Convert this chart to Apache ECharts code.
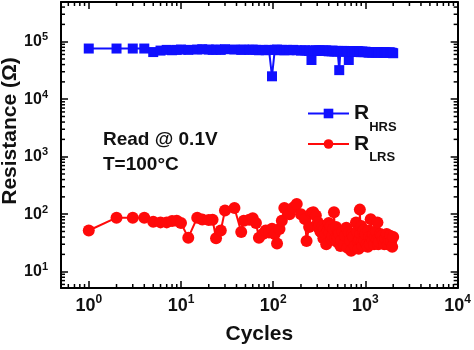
<!DOCTYPE html>
<html><head><meta charset="utf-8">
<script src="https://cdn.jsdelivr.net/npm/echarts@6/dist/echarts.min.js"></script>
<style>html,body{margin:0;padding:0;background:#fff}#c{width:474px;height:350px}</style>
</head><body><div id="c"></div>
<script>
const cycles = [1,2,3,4,5,6,7,8,9,10,
  12,15,17,20,22,24,27,30,
  38,45,48,55,60,65,70,77,83,90,
  97,104,110,117,124,132,141,150,165,180,
  200,221,230,245,260,272,290,305,310,318,
  325,335,345,350,360,370,376,390,400,410,
  420,430,440,450,456,470,480,490,500,510,
  520,535,550,565,585,600,620,640,660,680,
  700,720,740,765,790,810,830,845,860,870,
  885,900,915,930,945,960,980,1000,1030,1060,
  1080,1100,1120,1140,1170,1200,1220,1240,1270,1300,
  1330,1350,1380,1400,1450,1500,1550,1600,1650,1700,
  1750,1800,1850,1900,1950,2000];
const hrs = [76000,76000,76000,76000,66000,70000,72000,71000,72000,73000,
  72000,73000,74000,73000,72000,73000,72000,74000,
  73000,72000,73000,72000,73000,72000,71000,72000,71000,72000,
  25000,72000,73000,71000,72000,71000,72000,71000,72000,71000,
  70000,71000,70000,69000,48000,70000,71000,69000,70000,70000,
  69000,69000,70000,70000,69000,70000,70000,69000,68000,69000,
  69000,68000,70000,69000,68000,68000,69000,68000,68000,69000,
  32000,68000,68000,69000,69000,68000,67000,68000,48000,67000,
  67000,68000,68000,67000,67000,68000,68000,67000,66000,67000,
  66000,66000,67000,67000,66000,66000,66000,67000,66000,66000,
  65000,65000,66000,66000,65000,65000,66000,66000,65000,65000,
  66000,66000,65000,65000,65000,65000,64000,65000,65000,64000,
  64000,65000,65000,64000,64000,63000];
const lrs = [52,87,87,87,74,72,72,76,77,70,
  39,87,81,79,80,38,52,116,
  128,49,77,80,85,70,39,45,52,48,
  56,45,31,55,77,128,118,100,130,150,
  100,82,34,60,105,108,95,72,58,65,
  50,48,62,38,55,45,30,52,70,48,
  62,36,42,55,108,38,60,33,40,52,
  46,28,35,50,30,42,58,26,48,35,
  23,45,40,28,72,50,33,25,36,120,
  45,62,33,28,50,53,35,45,30,27,
  52,40,30,82,38,35,45,30,40,50,
  36,72,30,33,45,42,35,30,38,45,
  30,36,42,33,27,40];
const xTickExponents = ['0','1','2','3','4'];
const yTickExponents = ['1','2','3','4','5'];
const xMinorTicks = [0.6,0.7,0.8,0.9,2,3,4,5,6,7,8,9,20,30,40,50,60,70,80,90,200,300,400,500,600,700,800,900,2000,3000,4000,5000,6000,7000,8000,9000];
const yMinorTicks = [6,7,8,9,20,30,40,50,60,70,80,90,200,300,400,500,600,700,800,900,2000,3000,4000,5000,6000,7000,8000,9000,20000,30000,40000,50000,60000,70000,80000,90000,200000,300000,400000];

const FONT = '"Liberation Sans", Arial, sans-serif';
const chart = echarts.init(document.getElementById('c'));

function expLabel(list){
  return function(v){
    const e = Math.log10(v);
    const r = Math.round(e);
    if (Math.abs(e - r) > 1e-6) return '';
    const s = String(r);
    if (list.indexOf(s) < 0) return '';
    return '{b|10}{s|' + s + '}';
  };
}
const axLine = {show:true, onZero:false, lineStyle:{color:'#000', width:2}};
const axTick = {show:true, inside:true, length:7, lineStyle:{color:'#000', width:1.5}};

function minorX(params, api){
  const cs = params.coordSys;
  const x = api.coord([api.value(0), 10])[0];
  const yb = cs.y + cs.height, yt = cs.y;
  return {type:'group', children:[
    {type:'line', shape:{x1:x, y1:yb, x2:x, y2:yb-4}, style:{stroke:'#000', lineWidth:1.5}},
    {type:'line', shape:{x1:x, y1:yt, x2:x, y2:yt+4}, style:{stroke:'#000', lineWidth:1.5}}
  ]};
}
function minorY(params, api){
  const cs = params.coordSys;
  const y = api.coord([1, api.value(1)])[1];
  const xl = cs.x, xr = cs.x + cs.width;
  return {type:'group', children:[
    {type:'line', shape:{x1:xl, y1:y, x2:xl+4, y2:y}, style:{stroke:'#000', lineWidth:1.5}},
    {type:'line', shape:{x1:xr, y1:y, x2:xr-4, y2:y}, style:{stroke:'#000', lineWidth:1.5}}
  ]};
}

chart.setOption({
  animation:false,
  backgroundColor:'#fff',
  grid:{left:61, right:11, top:2, bottom:52, containLabel:false},
  xAxis:[{
    type:'log', logBase:10, min:0.5, max:10000, position:'bottom',
    axisLine:axLine, axisTick:axTick, splitLine:{show:false},
    axisLabel:{formatter:expLabel(xTickExponents), margin:9, showMinLabel:false,
      rich:{b:{fontFamily:FONT, fontSize:18, fontWeight:'bold', color:'#111', verticalAlign:'bottom', lineHeight:18, padding:[6,0,0,0]},
            s:{fontFamily:FONT, fontSize:12, fontWeight:'bold', color:'#111', verticalAlign:'bottom', lineHeight:12, padding:[0,0,9,0]}}},
    name:'Cycles', nameLocation:'middle', nameGap:36,
    nameTextStyle:{fontFamily:FONT, fontSize:21, fontWeight:'bold', color:'#111'}
  },{
    type:'log', logBase:10, min:0.5, max:10000, position:'top',
    axisLine:axLine, axisTick:axTick, splitLine:{show:false}, axisLabel:{show:false}
  }],
  yAxis:[{
    type:'log', logBase:10, min:5.2, max:490000, position:'left',
    axisLine:axLine, axisTick:axTick, splitLine:{show:false},
    axisLabel:{formatter:expLabel(yTickExponents), margin:13,
      rich:{b:{fontFamily:FONT, fontSize:16, fontWeight:'bold', color:'#111', verticalAlign:'bottom', lineHeight:16, padding:[9,0,0,0]},
            s:{fontFamily:FONT, fontSize:11, fontWeight:'bold', color:'#111', verticalAlign:'bottom', lineHeight:11, padding:[0,0,7,0]}}}
  },{
    type:'log', logBase:10, min:5.2, max:490000, position:'right',
    axisLine:axLine, axisTick:axTick, splitLine:{show:false}, axisLabel:{show:false}
  }],
  legend:{
    data:['HRS','LRS'], orient:'vertical', left:307, top:103, padding:0,
    itemWidth:41, itemHeight:12, itemGap:0,
    formatter:function(n){ return '{r|R}{sub|' + n + '}'; },
    textStyle:{rich:{
      r:{fontFamily:FONT, fontSize:21, fontWeight:'bold', color:'#111', lineHeight:40, verticalAlign:'middle'},
      sub:{fontFamily:FONT, fontSize:13, fontWeight:'bold', color:'#111', lineHeight:13, verticalAlign:'bottom'}
    }}
  },
  graphic:[
    {type:'text', x:10, y:131, rotation:Math.PI/2,
      style:{text:'Resistance (Ω)', fontFamily:FONT, fontSize:21, fontWeight:'bold', fill:'#111', align:'center', verticalAlign:'middle'}},
    {type:'text', x:103, y:140,
      style:{text:'Read @ 0.1V', fontFamily:FONT, fontSize:19, fontWeight:'bold', fill:'#111', align:'left', verticalAlign:'middle'}},
    {type:'text', x:103, y:165,
      style:{text:'T=100°C', fontFamily:FONT, fontSize:19, fontWeight:'bold', fill:'#111', align:'left', verticalAlign:'middle'}}
  ],
  series:[
    {name:'HRS', type:'line', data:cycles.map((c,i)=>[c, hrs[i]]),
      symbol:'rect', symbolSize:10, itemStyle:{color:'#1010ff'}, lineStyle:{color:'#1010ff', width:2}, z:3},
    {name:'LRS', type:'line', data:cycles.map((c,i)=>[c, lrs[i]]),
      symbol:'circle', symbolSize:12, itemStyle:{color:'#ff0a0a'}, lineStyle:{color:'#ff0a0a', width:2}, z:4},
    {name:'minorX', type:'custom', renderItem:minorX, data:xMinorTicks.map(v=>[v,10]), silent:true, z:10, clip:false},
    {name:'minorY', type:'custom', renderItem:minorY, data:yMinorTicks.map(v=>[1,v]), silent:true, z:10, clip:false}
  ]
});
</script></body></html>
